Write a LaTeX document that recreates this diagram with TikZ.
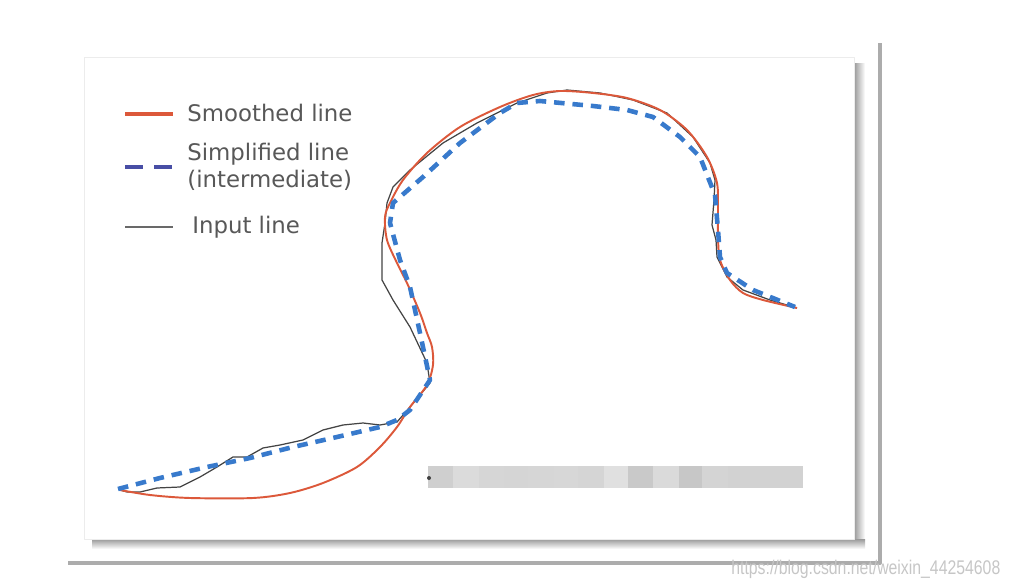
\documentclass[tikz,border=0pt]{standalone}
\usepackage{fontspec}
\setmainfont{DejaVu Sans}
\newfontfamily\urlfont{Liberation Sans}
\definecolor{smoothred}{RGB}{220,88,58}
\definecolor{simpblue}{RGB}{56,122,204}
\definecolor{legblue}{RGB}{72,78,165}
\definecolor{inputgray}{RGB}{68,68,68}
\definecolor{textgray}{RGB}{88,88,88}
\begin{document}
\begin{tikzpicture}[x=0.02cm,y=-0.02cm,line join=round,
  smoothed/.style={draw=smoothred,line width=1.1pt},
  simplified/.style={draw=simpblue,line width=2.6pt,dash pattern=on 6pt off 4.5pt},
  inputline/.style={draw=inputgray,line width=0.7pt},
  legendtext/.style={anchor=west,text=textgray,font=\fontsize{13}{15.5}\selectfont,align=left,inner sep=0pt}]
\useasboundingbox (0,0) rectangle (1012,588);

% outer frame and card with its shadow
\draw[gray!65,line width=2.2pt] (68,563) -- (880,563) -- (880,43);
\shade[left color=gray!80,right color=white] (854,64) rectangle (865,548);
\shade[top color=gray!80,bottom color=white] (92,539) rectangle (865,549);
\draw[gray!15,fill=white] (84,57) rectangle (854,539);

% legend
\draw[smoothred,line width=1.8pt] (125,114) -- (173,114);
\node[legendtext] (smooth) at (187,113) {Smoothed line};
\draw[legblue,line width=2.4pt] (125,167) -- (143,167) (154,167) -- (172,167);
\node[legendtext] (simple) at (187,167) {Simplified line\\(intermediate)};
\draw[inputgray!80,line width=1.1pt] (125,227) -- (173,227);
\node[legendtext] (input) at (192,227) {Input line};

% the three lines
\draw[inputline] plot coordinates {(120,490) (127,492) (140,492) (157,488) (180,487) (200,477) (217,467) (233,457) (247,457) (263,448) (280,445) (303,440) (323,430) (343,425) (363,423) (380,425) (397,422) (410,407) (430,383) (427,363) (410,327) (393,300) (382,280) (382,243) (385,223) (387,203) (393,187) (410,170) (443,143) (477,123) (517,103) (547,93) (567,90) (600,93) (633,100) (667,113) (693,137) (710,163) (715,180) (714,200) (712,225) (716,240) (717,257) (727,277) (743,290) (770,300) (797,308)};
\draw[smoothed] plot[smooth,tension=0.5] coordinates {(120,490) (150,495) (190,498) (253,498) (290,493) (323,483) (357,467) (380,447) (397,427) (410,407) (427,385) (433,365) (432,347) (427,333) (420,313) (407,283) (397,263) (387,240) (385,217) (390,203) (403,180) (427,153) (460,127) (500,107) (533,95) (560,91) (593,93) (627,98) (660,110) (687,130) (707,157) (717,183) (718,210) (718,237) (720,260) (730,280) (743,293) (763,300) (797,308)};
\draw[simplified] plot coordinates {(118,489) (160,478) (207,467) (250,458) (293,447) (337,437) (380,427) (397,420) (410,410) (430,380) (420,333) (410,287) (400,260) (390,223) (393,203) (423,177) (460,143) (500,113) (517,103) (540,101) (593,106) (627,110) (653,117) (680,137) (700,157) (715,195) (718,230) (720,257) (727,273) (753,290) (795,307)};

% blurred label
\foreach \x/\s in {428/38,453/28,479/32,504/33,528/32,554/31,578/33,604/24,628/42,653/29,679/44,702/34,728/35,752/35,777/35}
  \fill[gray!\s] (\x,466) rectangle ++(25.5,22);
\fill[black!75] (429,478) circle (2);

% watermark
\node[anchor=west,text=gray!45,font=\urlfont\fontsize{9}{11}\selectfont,inner sep=0pt,yscale=1.25] (url) at (731,569) {https://blog.csdn.net/weixin\_44254608};
\end{tikzpicture}
\end{document}
